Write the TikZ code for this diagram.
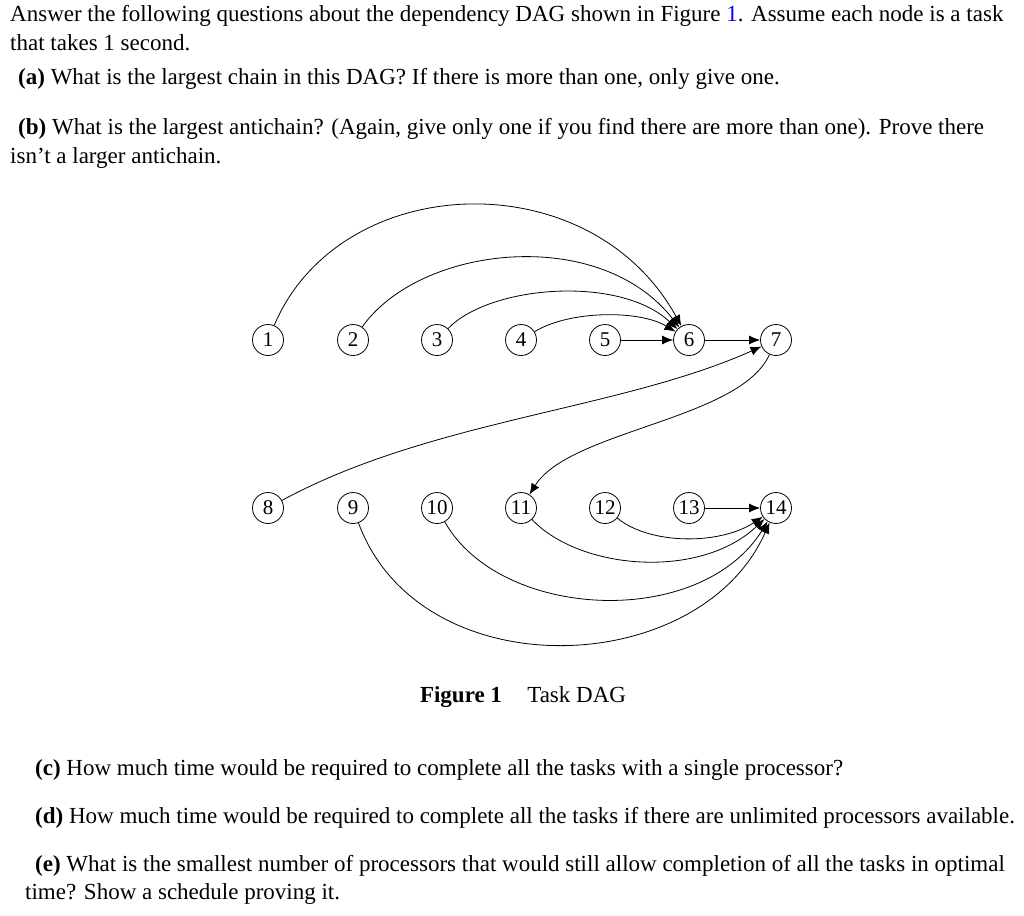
\documentclass[tikz,border=0pt]{standalone}
\usepackage{fontspec}
\setmainfont{Liberation Serif}
\usetikzlibrary{arrows.meta}
\begin{document}
\begin{tikzpicture}[x=1pt,y=-1pt,
  txt/.style={anchor=base west,inner sep=0pt,font=\fontsize{23}{27}\selectfont},
  v/.style={circle,draw,thick,minimum size=31pt,inner sep=0pt,font=\fontsize{21}{24}\selectfont},
  e/.style={thick,-{Latex[length=11pt,width=9pt]}}]
\useasboundingbox (0,0) rectangle (1024,915);
\node[txt] (t1) at (10,22) {Answer the following questions about the dependency DAG shown in Figure \textcolor{blue}{1}. Assume each node is a task};
\node[txt] (t2) at (10,51) {that takes 1 second.};
\node[txt] (t3) at (18,85) {\textbf{(a)} What is the largest chain in this DAG? If there is more than one, only give one.};
\node[txt] (t4) at (18,135) {\textbf{(b)} What is the largest antichain? (Again, give only one if you find there are more than one). Prove there};
\node[txt] (t5) at (10,163) {isn’t a larger antichain.};
\node[txt] (t6) at (35,775) {\textbf{(c)} How much time would be required to complete all the tasks with a single processor?};
\node[txt] (t7) at (35,823) {\textbf{(d)} How much time would be required to complete all the tasks if there are unlimited processors available.};
\node[txt] (t8) at (35,871) {\textbf{(e)} What is the smallest number of processors that would still allow completion of all the tasks in optimal};
\node[txt] (t9) at (25,899) {time? Show a schedule proving it.};
\node[txt,anchor=base] (cap) at (523,702) {\textbf{Figure 1}\hspace{1.1em}Task DAG};
\foreach \i/\x in {1/268,2/353,3/437,4/521,5/605,6/689,7/776}{\node[v] (n\i) at (\x,340) {\i};}
\foreach \i/\x in {8/268,9/353,10/437,11/521,12/605,13/689,14/776}{\node[v] (n\i) at (\x,508) {\i};}
\draw[e] (n1) .. controls (340,170) and (590,160) .. (n6);
\draw[e] (n2) .. controls (420,245) and (600,225) .. (n6);
\draw[e] (n3) .. controls (490,285) and (620,275) .. (n6);
\draw[e] (n4) .. controls (570,310) and (640,310) .. (n6);
\draw[e] (n5) -- (n6);
\draw[e] (n6) -- (n7);
\draw[e] (n8) .. controls (430,420) and (620,410) .. (n7);
\draw[e] (n7) .. controls (740,420) and (570,430) .. (n11);
\draw[e] (n9) .. controls (420,690) and (700,680) .. (n14);
\draw[e] (n10) .. controls (500,620) and (700,630) .. (n14);
\draw[e] (n11) .. controls (580,570) and (700,580) .. (n14);
\draw[e] (n12) .. controls (650,545) and (720,545) .. (n14);
\draw[e] (n13) -- (n14);
\end{tikzpicture}
\end{document}
